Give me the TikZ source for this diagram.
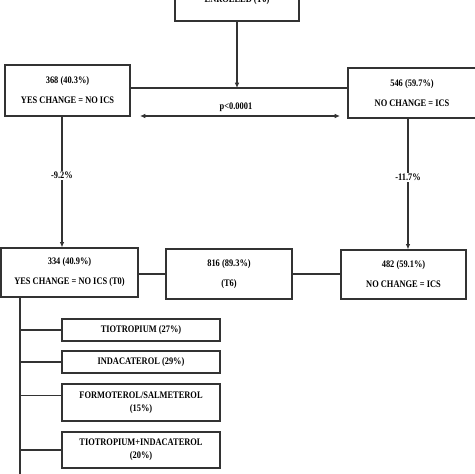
\documentclass[tikz,border=0pt]{standalone}
\usepackage{fontspec}
\setmainfont{Liberation Serif}[FakeStretch=0.84]
\usetikzlibrary{arrows.meta}

\begin{document}
\begin{tikzpicture}[x=0.75pt, y=-0.75pt,
        txt/.style={font=\bfseries\fontsize{7.5}{9}\selectfont},
        box/.style={txt, draw=black!80, line width=0.9pt, fill=white, align=center, inner sep=0pt},
        link/.style={draw=black!80, line width=0.9pt},
        tip/.style={-{Latex[length=4pt,width=3.5pt]}}]
        \useasboundingbox (0, 0) rectangle (474, 474);

        % first row
        \node [box, minimum width=124*0.75pt, minimum height=42*0.75pt] (enrol) at (237, 0) {ENROLLED (T0)};
        \node [box, minimum width=125*0.75pt, minimum height=51*0.75pt] (yesA) at (67.5, 90.5) {368 (40.3\%)\\[6pt] YES CHANGE = NO ICS};
        \node [box, minimum width=128*0.75pt, minimum height=50*0.75pt] (noA) at (412, 93) {546 (59.7\%)\\[6pt] NO CHANGE = ICS};

        \coordinate (split) at (237, 88);
        \draw [link, tip] (enrol) -- (split);
        \draw [link] (yesA.east |- split) -- (noA.west |- split);

        \coordinate (pL) at (140, 116);
        \coordinate (pR) at (340, 116);
        \node [txt] (pval) at (236, 107) {p<0.0001};
        \draw [link, {Latex[length=4pt,width=3.5pt]}-{Latex[length=4pt,width=3.5pt]}] (pL) -- (pR);

        % second row
        \node [box, minimum width=137*0.75pt, minimum height=49*0.75pt] (yesB) at (69.5, 272.5) {334 (40.9\%)\\[6pt] YES CHANGE = NO ICS (T0)};
        \node [box, minimum width=126*0.75pt, minimum height=50*0.75pt] (six) at (229, 274) {816 (89.3\%)\\[6pt] (T6)};
        \node [box, minimum width=125*0.75pt, minimum height=49*0.75pt] (noB) at (403.5, 274.5) {482 (59.1\%)\\[6pt] NO CHANGE = ICS};

        \draw [link, tip] (yesA.south -| 62, 0) -- node [pos=0.45, fill=white, inner sep=1pt, txt] {-9.2\%} (yesB.north -| 62, 0);
        \draw [link, tip] (noA.south -| 408, 0) -- node [pos=0.45, fill=white, inner sep=1pt, txt] {-11.7\%} (noB.north -| 408, 0);
        \draw [link] (yesB.east |- six) -- (six);
        \draw [link] (six) -- (noB.west |- six);

        % treatments
        \node [box, minimum width=158*0.75pt, minimum height=22*0.75pt] (tio) at (141, 330) {TIOTROPIUM (27\%)};
        \node [box, minimum width=158*0.75pt, minimum height=22*0.75pt] (inda) at (141, 362) {INDACATEROL (29\%)};
        \node [box, minimum width=158*0.75pt, minimum height=37*0.75pt] (formo) at (141, 402.5) {FORMOTEROL/SALMETEROL\\[1pt] (15\%)};
        \node [box, minimum width=158*0.75pt, minimum height=36*0.75pt] (combo) at (141, 450) {TIOTROPIUM+INDACATEROL\\[1pt] (20\%)};

        \coordinate (spine) at (20, 297);
        \coordinate (spineend) at (20, 476);
        \draw [link] (spine) -- (spineend);
        \draw [link] (spine |- tio.west) -- (tio.west);
        \draw [link] (spine |- inda.west) -- (inda.west);
        \draw [link] ([yshift=5pt]formo.west -| spine) -- ([yshift=5pt]formo.west);
        \draw [link] (spine |- combo.west) -- (combo.west);
\end{tikzpicture}
\end{document}
